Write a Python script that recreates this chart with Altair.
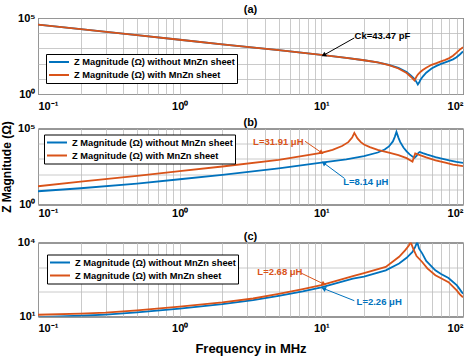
import altair as alt
import pandas as pd

BLUE = "#0072BD"
ORANGE = "#D95319"
FONT = "Liberation Sans"
S_WO = "Z Magnitude (Ω) without MnZn sheet"
S_W = "Z Magnitude (Ω) with MnZn sheet"

# ---------------- data (frequency in MHz, |Z| read as log10 of ohms) ----------------
# panel (a)
a_f_wo = [0.1, 0.2, 0.5, 1, 2, 5, 10, 15, 20, 25, 30, 35, 40, 43, 45, 46, 47, 48, 49, 50,
          52, 55, 60, 65, 70, 75, 80, 85, 90, 95, 100]
a_z_wo = [4.57, 4.27, 3.87, 3.57, 3.27, 2.88, 2.57, 2.38, 2.22, 2.08, 1.92, 1.72, 1.45, 1.20,
          1.02, 0.92, 0.78, 0.62, 0.75, 0.92, 1.15, 1.40, 1.68, 1.85, 1.98, 2.08, 2.18, 2.28,
          2.42, 2.60, 2.80]
a_f_w = [0.1, 0.2, 0.5, 1, 2, 5, 10, 15, 20, 25, 30, 35, 40, 43, 44, 45, 45.5, 46, 47, 48,
         50, 52, 55, 60, 65, 70, 75, 80, 85, 90, 95, 100]
a_z_w = [4.57, 4.27, 3.87, 3.57, 3.27, 2.88, 2.57, 2.38, 2.22, 2.08, 1.90, 1.68, 1.38, 1.12,
         1.03, 0.93, 0.89, 0.98, 1.15, 1.28, 1.45, 1.58, 1.73, 1.92, 2.03, 2.15, 2.25, 2.36,
         2.52, 2.72, 2.92, 3.07]
# panel (b)
b_f_wo = [0.1, 0.2, 0.5, 1, 2, 5, 10, 15, 20, 25, 28, 30, 32, 33, 33.9, 35, 36, 38, 40, 42,
          44, 45.5, 47, 48.5, 49.5, 52, 56, 64, 72, 80, 90, 100]
b_z_wo = [0.87, 1.07, 1.38, 1.66, 1.95, 2.38, 2.75, 2.97, 3.18, 3.42, 3.62, 3.82, 4.15, 4.45,
          4.78, 4.40, 4.12, 3.75, 3.50, 3.30, 3.15, 3.07, 3.20, 3.40, 3.46, 3.38, 3.28, 3.12,
          3.00, 2.90, 2.81, 2.74]
b_f_w = [0.1, 0.2, 0.5, 1, 2, 5, 10, 12, 14, 15.5, 16.5, 17.1, 18, 19, 20, 22, 25, 30, 35,
         40, 43.5, 44, 45, 46, 48, 55, 64, 75, 85, 100]
b_z_w = [1.20, 1.50, 1.88, 2.19, 2.50, 2.93, 3.40, 3.60, 3.85, 4.10, 4.40, 4.71, 4.35, 4.10,
         3.95, 3.78, 3.60, 3.42, 3.25, 3.05, 2.85, 2.82, 3.10, 3.36, 3.30, 3.10, 2.91, 2.75,
         2.62, 2.52]
# panel (c)
c_f_wo = [0.1, 0.2, 0.3, 0.5, 1, 2, 3.3, 5, 7.4, 10, 16.7, 20, 28.5, 35.4, 40, 44, 46, 47.5,
          49, 51.5, 55, 63.8, 70, 79, 90.6, 95, 100]
c_z_wo = [0.97, 1.03, 1.08, 1.17, 1.32, 1.50, 1.66, 1.84, 2.02, 2.18, 2.54, 2.62, 2.87, 3.15,
          3.38, 3.62, 3.82, 4.02, 3.75, 3.56, 3.25, 2.87, 2.72, 2.56, 2.26, 2.10, 1.92]
c_f_w = [0.1, 0.2, 0.3, 0.5, 1, 2, 3.3, 5, 7.4, 10, 16.7, 20, 28.5, 35.4, 39, 41.5, 42.7,
         44.5, 47, 51.5, 56, 63.8, 70, 79, 90.6, 95, 100]
c_z_w = [1.07, 1.12, 1.16, 1.25, 1.40, 1.57, 1.73, 1.92, 2.11, 2.27, 2.64, 2.76, 3.01, 3.42,
         3.68, 3.88, 4.02, 3.75, 3.45, 3.21, 2.95, 2.67, 2.55, 2.39, 2.05, 1.90, 1.78]

# tick values and labels
x_ticks = [0.1, 0.2, 0.3, 0.4, 0.5, 0.6, 0.7, 0.8, 0.9,
           1, 2, 3, 4, 5, 6, 7, 8, 9,
           10, 20, 30, 40, 50, 60, 70, 80, 90, 100]
x_labels = {0.1: "10⁻¹", 1: "10⁰", 10: "10¹", 100: "10²"}
y_ticks_ab = [1, 10, 100, 1000, 10000, 100000]
y_labels_ab = {1: "10⁰", 100000: "10⁵"}
y_ticks_c = [10, 100, 1000, 10000]
y_labels_c = {10: "10¹", 10000: "10⁴"}

# annotations: (label, freq, log10 |Z|, colour) and arrows (f0, z0, f1, z1, colour, angle)
ann_a = [("Ck=43.47 pF", 27, 3.80, "black")]
arr_a = [(17.1, 3.69, 10.5, 2.58, "black", 241)]
ann_b = [("L=31.91 μH", 4.97, 4.12, ORANGE), ("L=8.14 μH", 20.6, 1.49, BLUE)]
arr_b = [(7.67, 4.16, 9.93, 3.44, ORANGE, 125), (14.6, 1.71, 10.5, 2.70, BLUE, 307)]
ann_c = [("L=2.68 μH", 5.1, 2.80, ORANGE), ("L=2.26 μH", 25.6, 1.57, BLUE)]
arr_c = [(7.2, 2.76, 10.3, 2.33, ORANGE, 116), (17.1, 1.64, 10.5, 2.12, BLUE, 291)]


def label_expr(mapping):
    parts = [f"datum.value == {k} ? '{v}'" for k, v in mapping.items()]
    return " : ".join(parts) + " : ''"


def series_df(f, z, name):
    return pd.DataFrame({"freq": f, "mag": [10 ** v for v in z], "series": name})


def make_panel(title, f_wo, z_wo, f_w, z_w, ydom, yticks, ylabels, anns, arrows,
               legend_xy, height, title_offset, title_dy, xlabel_pad,
               ytitle=None, xtitle=None):
    xaxis_kw = dict(values=x_ticks, labelExpr=label_expr(x_labels), labelOverlap=False,
                    ticks=False, domain=False, grid=True, labelPadding=xlabel_pad)
    if xtitle:
        xaxis_kw.update(title=xtitle, titleFontSize=13, titleFont=FONT,
                        titleFontWeight="bold", titlePadding=9)
    else:
        xaxis_kw.update(title=None)
    x = alt.X("freq:Q", scale=alt.Scale(type="log", domain=[0.1, 100], nice=False),
              axis=alt.Axis(**xaxis_kw))
    yaxis_kw = dict(values=yticks, labelExpr=label_expr(ylabels), labelOverlap=False,
                    ticks=False, domain=False, grid=True, labelPadding=3)
    if ytitle:
        yaxis_kw.update(title=ytitle, titleFontSize=12, titleFont=FONT,
                        titleFontWeight="bold", titlePadding=4)
    else:
        yaxis_kw.update(title=None)
    y = alt.Y("mag:Q", scale=alt.Scale(type="log", domain=ydom, nice=False),
              axis=alt.Axis(**yaxis_kw))
    legend = alt.Legend(title=None, orient="none", legendX=legend_xy[0], legendY=legend_xy[1],
                        fillColor="white", strokeColor="black", padding=2,
                        symbolType="M-2,0H2", symbolStrokeWidth=2, symbolSize=100,
                        symbolOffset=5, labelOffset=9,
                        labelFont=FONT, labelFontWeight="bold", labelFontSize=9.3,
                        labelLimit=400, rowPadding=1)
    color = alt.Color("series:N", scale=alt.Scale(domain=[S_WO, S_W], range=[BLUE, ORANGE]),
                      legend=legend)
    layers = [
        alt.Chart(series_df(f_wo, z_wo, S_WO)).mark_line(strokeWidth=1.8, clip=True)
        .encode(x=x, y=y, color=color),
        alt.Chart(series_df(f_w, z_w, S_W)).mark_line(strokeWidth=1.8, clip=True)
        .encode(x=x, y=y, color=color),
    ]
    for (f0, z0, f1, z1, col, ang) in arrows:
        d = pd.DataFrame({"freq": [f0], "mag": [10 ** z0], "freq2": [f1], "mag2": [10 ** z1]})
        layers.append(alt.Chart(d).mark_rule(color=col, strokeWidth=1)
                      .encode(x=x, y=y, x2="freq2:Q", y2="mag2:Q"))
        d2 = pd.DataFrame({"freq": [f1], "mag": [10 ** z1]})
        layers.append(alt.Chart(d2).mark_point(shape="triangle", filled=True, size=28,
                                               color=col, opacity=1, angle=ang)
                      .encode(x=x, y=y))
    for (lab, f, z, col) in anns:
        d = pd.DataFrame({"freq": [f], "mag": [10 ** z], "label": [lab]})
        layers.append(alt.Chart(d).mark_text(font=FONT, fontSize=9.5, fontWeight="bold",
                                             color=col)
                      .encode(x=x, y=y, text="label:N"))
    return alt.layer(*layers).properties(
        width=425, height=height,
        title=alt.TitleParams(title, font=FONT, fontSize=11, fontWeight="bold",
                              offset=title_offset, dy=title_dy, anchor="middle"))


pa = make_panel("(a)", a_f_wo, a_z_wo, a_f_w, a_z_w, [1, 100000], y_ticks_ab, y_labels_ab,
                ann_a, arr_a, (8, 36), 76, 0, 3, 6)
pb = make_panel("(b)", b_f_wo, b_z_wo, b_f_w, b_z_w, [1, 100000], y_ticks_ab, y_labels_ab,
                ann_b, arr_b, (6, 6), 76, 0, 7.5, 3, ytitle="Z Magnitude (Ω)")
pc = make_panel("(c)", c_f_wo, c_z_wo, c_f_w, c_z_w, [10, 10000], y_ticks_c, y_labels_c,
                ann_c, arr_c, (9, 12), 74, 3, 8.5, 6, xtitle="Frequency in MHz")

top_pair = alt.vconcat(pa, pb, spacing=4.5).resolve_scale(y="independent", color="independent")
chart = (
    alt.vconcat(top_pair, pc, spacing=11.5)
    .resolve_scale(y="independent", color="independent")
    .properties(padding={"left": 0, "top": 3, "right": 4, "bottom": 0}, background="white")
    .configure_view(stroke="black", strokeWidth=1)
    .configure_axis(labelFont=FONT, labelFontSize=11, labelFontWeight="bold",
                    labelColor="black", gridColor="#bdbdbd", gridWidth=0.8, gridOpacity=1,
                    titleColor="black")
)

chart.save("out.html", embed_options={"renderer": "svg", "actions": False})
